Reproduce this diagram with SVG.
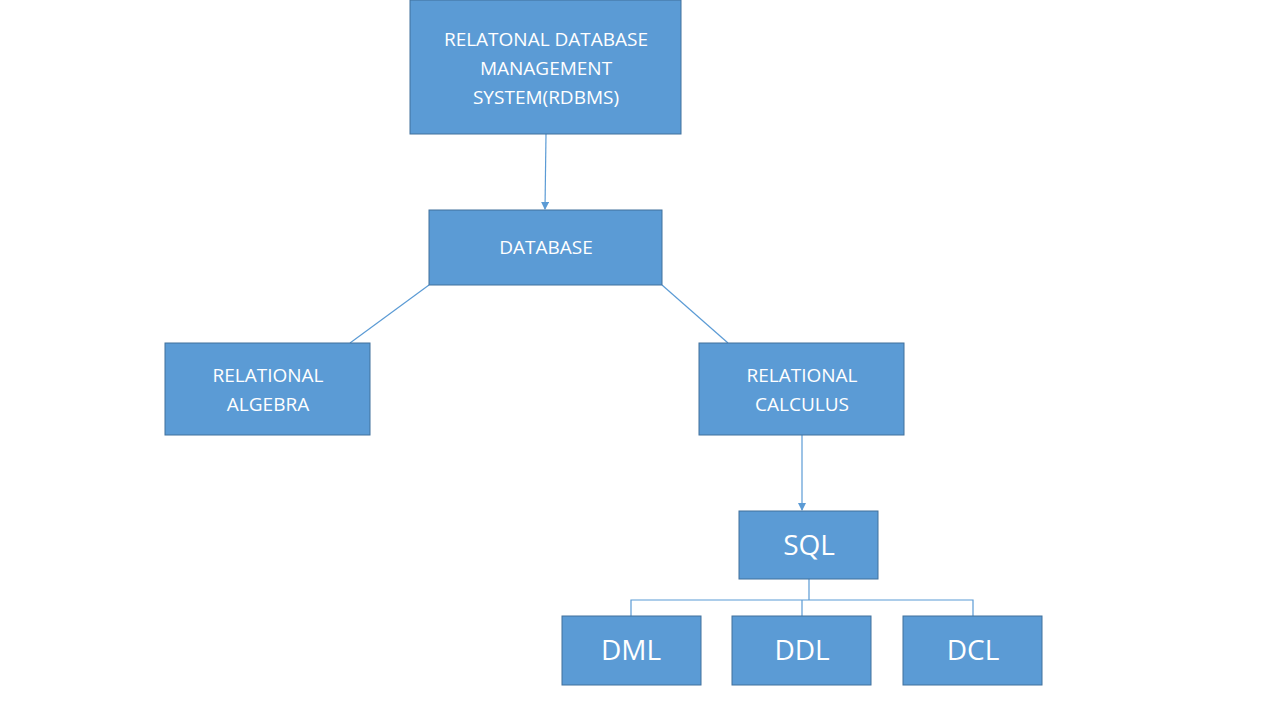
<svg xmlns="http://www.w3.org/2000/svg" width="1280" height="720" viewBox="0 0 1280 720">
<style>
.b{fill:#5B9BD5;stroke:#41719C;stroke-width:1}
.t{fill:#fff;font-family:"Open Sans","Liberation Sans",sans-serif;font-size:19px;text-anchor:middle}
.l{font-size:28px}
.c{stroke:#5B9BD5;stroke-width:1.2;fill:none}
</style>
<defs><marker id="a" markerWidth="8" markerHeight="8" refX="7" refY="4" orient="auto" markerUnits="userSpaceOnUse"><path d="M0,0L8,4L0,8z" fill="#5B9BD5"/></marker></defs>
<rect width="1280" height="720" fill="#fff"/>
<g id="connectors">
<path class="c" d="M546,134L545,209" marker-end="url(#a)"/>
<path class="c" d="M429,285L350,343"/>
<path class="c" d="M662,285L728,343"/>
<path class="c" d="M802,435L802,510" marker-end="url(#a)"/>
<path class="c" d="M809,579V600M631,616V600H973V616M802,600V616"/>
</g>
<g id="rdbms"><rect class="b" x="410" y="0" width="271" height="134"/><text class="t" x="546" y="46">RELATONAL DATABASE</text><text class="t" x="546" y="75">MANAGEMENT</text><text class="t" x="546" y="104">SYSTEM(RDBMS)</text></g>
<g id="database"><rect class="b" x="429" y="210" width="233" height="75"/><text class="t" x="546" y="254">DATABASE</text></g>
<g id="algebra"><rect class="b" x="165" y="343" width="205" height="92"/><text class="t" x="268" y="382">RELATIONAL</text><text class="t" x="268" y="411">ALGEBRA</text></g>
<g id="calculus"><rect class="b" x="699" y="343" width="205" height="92"/><text class="t" x="802" y="382">RELATIONAL</text><text class="t" x="802" y="411">CALCULUS</text></g>
<g id="sql"><rect class="b" x="739" y="511" width="139" height="68"/><text class="t l" x="809" y="555">SQL</text></g>
<g id="dml"><rect class="b" x="562" y="616" width="139" height="69"/><text class="t l" x="631" y="660">DML</text></g>
<g id="ddl"><rect class="b" x="732" y="616" width="139" height="69"/><text class="t l" x="802" y="660">DDL</text></g>
<g id="dcl"><rect class="b" x="903" y="616" width="139" height="69"/><text class="t l" x="973" y="660">DCL</text></g>
</svg>
